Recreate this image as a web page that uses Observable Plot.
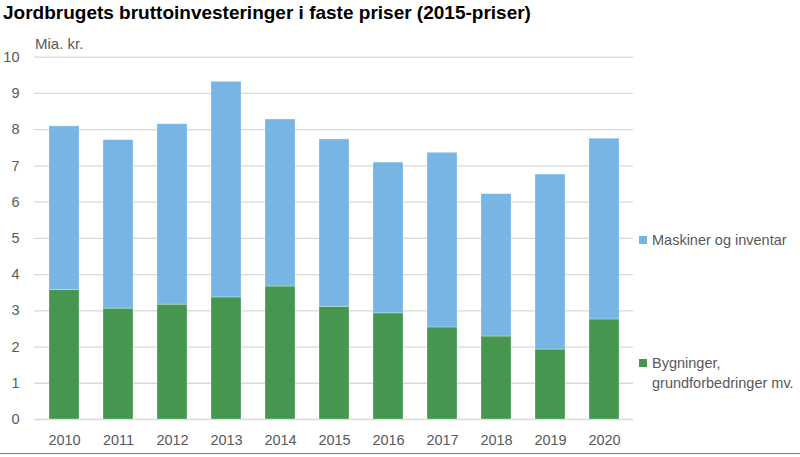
<!DOCTYPE html>
<html><head><meta charset="utf-8">
<script src="https://cdn.jsdelivr.net/npm/d3@7"></script>
<script src="https://cdn.jsdelivr.net/npm/@observablehq/plot@0.6"></script>
<style>
body{margin:0;background:#fff;}
#wrap{position:relative;width:800px;height:457px;overflow:hidden;font-family:"Liberation Sans",Arial,sans-serif;color:#595959;}
#chart{position:absolute;left:0;top:0;}
#title{position:absolute;left:3px;top:1px;font:bold 19px "Liberation Sans",Arial,sans-serif;line-height:24px;color:#000;white-space:nowrap;}
#unit{position:absolute;left:35px;top:35px;font-size:15px;line-height:18px;}
.leg{position:absolute;left:639px;font-size:14.5px;line-height:20px;white-space:nowrap;}
.sw{position:absolute;left:0;top:6px;width:8px;height:8px;}
.lt{position:absolute;left:13px;top:0;}
#bottomline{position:absolute;left:0;top:453px;width:800px;height:1px;background:#6f8090;}
</style>
</head><body>
<div id="wrap">
  <div id="chart"></div>
  <div id="title"></div>
  <div id="unit"></div>
  <div id="legend"></div>
  <div id="bottomline"></div>
</div>
<script>
const years = ["2010","2011","2012","2013","2014","2015","2016","2017","2018","2019","2020"];
const bygninger = [3.57,3.06,3.17,3.37,3.67,3.11,2.93,2.54,2.29,1.93,2.76];
const maskiner  = [4.52,4.65,4.98,5.95,4.61,4.62,4.16,4.82,3.93,4.83,4.99];
const seriesNames = ["Bygninger, grundforbedringer mv.","Maskiner og inventar"];
const seriesColors = ["#46964f","#77b5e4"];
const yTicks = [0,1,2,3,4,5,6,7,8,9,10];
const titleText = "Jordbrugets bruttoinvesteringer i faste priser (2015-priser)";
const unitText = "Mia. kr.";

const data = [];
years.forEach((y,i)=>{
  data.push({year:y, series:seriesNames[0], value:bygninger[i]});
  data.push({year:y, series:seriesNames[1], value:maskiner[i]});
});

const plot = Plot.plot({
  width:800, height:457,
  marginLeft:34, marginRight:167, marginTop:56.7, marginBottom:38,
  style:{fontFamily:'"Liberation Sans",Arial,sans-serif', fontSize:"14.5px", color:"#595959", background:"transparent"},
  x:{domain:years, paddingInner:0.45, paddingOuter:0.23},
  y:{domain:[0,10]},
  color:{domain:seriesNames, range:seriesColors},
  marks:[
    Plot.gridY(yTicks,{stroke:"#d9d9d9", strokeOpacity:1, strokeWidth:1.3}),
    Plot.barY(data,{x:"year", y:"value", fill:"series", order:seriesNames, stroke:"#ffffff", strokeOpacity:0.35, strokeWidth:0.8}),
    Plot.axisX({tickSize:0, tickPadding:15, label:null, fill:"#595959"}),
    Plot.axisY(yTicks,{tickSize:0, tickPadding:15, label:null, fill:"#595959"})
  ]
});
document.getElementById("chart").appendChild(plot);
document.getElementById("title").textContent = titleText;
document.getElementById("unit").textContent = unitText;

const legend = document.getElementById("legend");
const legendItems = [
  {name:seriesNames[1], lines:["Maskiner og inventar"], top:230},
  {name:seriesNames[0], lines:["Bygninger,","grundforbedringer mv."], top:353}
];
legendItems.forEach(it=>{
  const d = document.createElement("div");
  d.className="leg"; d.style.top = it.top+"px";
  const sw = document.createElement("div"); sw.className="sw";
  sw.style.background = seriesColors[seriesNames.indexOf(it.name)];
  const t = document.createElement("div"); t.className="lt";
  t.innerHTML = it.lines.join("<br>");
  d.appendChild(sw); d.appendChild(t);
  legend.appendChild(d);
});
</script>
</body></html>
